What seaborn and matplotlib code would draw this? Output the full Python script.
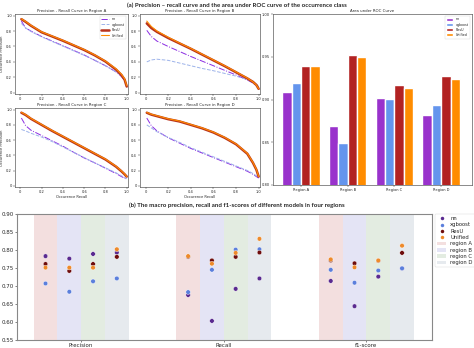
import numpy as np
import pandas as pd
import matplotlib
matplotlib.use("Agg")
import matplotlib.pyplot as plt
from matplotlib.patches import Patch
from matplotlib.lines import Line2D
import seaborn as sns

sns.set_style("ticks")
plt.rcParams["font.family"] = ["DejaVu Sans"]

# ---------------- data ----------------
models = ["nn", "xgboost", "ResU", "Unified"]
regions = ["Region A", "Region B", "Region C", "Region D"]
region_names = ["region A", "region B", "region C", "region D"]
metrics = ["Precision", "Recall", "f1-score"]

# precision-recall curves (recall grid shared by all curves)
recall = [0.01, 0.05, 0.1, 0.2, 0.3, 0.4, 0.5, 0.6, 0.7, 0.8, 0.9, 0.95, 0.98, 1.0]

pr_a_nn      = [0.93, 0.84, 0.80, 0.73, 0.67, 0.61, 0.55, 0.49, 0.42, 0.35, 0.27, 0.21, 0.16, 0.10]
pr_a_xgboost = [0.90, 0.84, 0.795, 0.725, 0.665, 0.605, 0.545, 0.485, 0.42, 0.35, 0.27, 0.22, 0.17, 0.11]
pr_a_resu    = [0.955, 0.92, 0.87, 0.785, 0.73, 0.675, 0.615, 0.555, 0.485, 0.405, 0.30, 0.23, 0.17, 0.08]
pr_a_unified = [0.96, 0.925, 0.875, 0.79, 0.735, 0.68, 0.62, 0.56, 0.49, 0.41, 0.31, 0.24, 0.18, 0.09]

pr_b_nn      = [0.81, 0.73, 0.67, 0.60, 0.535, 0.47, 0.41, 0.35, 0.29, 0.23, 0.165, 0.125, 0.09, 0.06]
pr_b_xgboost = [0.40, 0.425, 0.435, 0.42, 0.385, 0.35, 0.315, 0.285, 0.25, 0.215, 0.17, 0.135, 0.11, 0.08]
pr_b_resu    = [0.90, 0.84, 0.79, 0.71, 0.64, 0.57, 0.495, 0.42, 0.345, 0.265, 0.185, 0.14, 0.10, 0.05]
pr_b_unified = [0.93, 0.86, 0.80, 0.72, 0.645, 0.575, 0.50, 0.425, 0.35, 0.27, 0.19, 0.14, 0.10, 0.05]

pr_c_nn      = [0.89, 0.79, 0.73, 0.66, 0.59, 0.52, 0.44, 0.365, 0.30, 0.23, 0.16, 0.12, 0.10, 0.08]
pr_c_xgboost = [0.74, 0.72, 0.69, 0.64, 0.58, 0.51, 0.44, 0.37, 0.30, 0.235, 0.17, 0.13, 0.11, 0.09]
pr_c_resu    = [0.96, 0.93, 0.88, 0.80, 0.72, 0.645, 0.57, 0.495, 0.42, 0.345, 0.25, 0.19, 0.15, 0.12]
pr_c_unified = [0.965, 0.935, 0.885, 0.805, 0.725, 0.65, 0.575, 0.50, 0.425, 0.35, 0.255, 0.195, 0.155, 0.12]

pr_d_nn      = [0.89, 0.79, 0.72, 0.63, 0.56, 0.49, 0.43, 0.37, 0.31, 0.25, 0.19, 0.15, 0.12, 0.10]
pr_d_xgboost = [0.80, 0.76, 0.71, 0.635, 0.57, 0.50, 0.44, 0.38, 0.32, 0.26, 0.20, 0.16, 0.13, 0.11]
pr_d_resu    = [0.96, 0.935, 0.915, 0.875, 0.845, 0.80, 0.755, 0.70, 0.63, 0.545, 0.42, 0.30, 0.21, 0.12]
pr_d_unified = [0.965, 0.94, 0.92, 0.88, 0.85, 0.805, 0.76, 0.705, 0.635, 0.55, 0.425, 0.305, 0.215, 0.12]

# area under ROC curve per region
auc_nn      = [0.909, 0.869, 0.902, 0.882]
auc_xgboost = [0.919, 0.849, 0.901, 0.894]
auc_resu    = [0.939, 0.952, 0.917, 0.927]
auc_unified = [0.939, 0.950, 0.914, 0.924]

# macro scores: precision A-D, recall A-D, f1 A-D
scores_nn      = [0.783, 0.776, 0.789, 0.793, 0.675, 0.603, 0.692, 0.721, 0.714, 0.644, 0.726, 0.749]
scores_xgboost = [0.707, 0.684, 0.713, 0.721, 0.683, 0.745, 0.801, 0.802, 0.745, 0.709, 0.743, 0.749]
scores_resu    = [0.761, 0.742, 0.761, 0.781, 0.781, 0.771, 0.781, 0.793, 0.771, 0.763, 0.770, 0.792]
scores_unified = [0.751, 0.751, 0.751, 0.802, 0.783, 0.762, 0.792, 0.831, 0.774, 0.752, 0.771, 0.812]

# ---------------- styles ----------------
curve_styles = {
    "nn": dict(color="#8a2be2", ls="-.", lw=0.7),
    "xgboost": dict(color="#9db3ea", ls="--", lw=0.7),
    "ResU": dict(color="#b8321c", ls="-", lw=1.8),
    "Unified": dict(color="#ff8c00", ls="-", lw=0.8),
}
bar_colors = ["#9932cc", "#6495ed", "#b22222", "#ff8c00"]
dot_colors = ["#5a2a90", "#5b7fdc", "#6e0c0c", "#ee8a2a"]
span_colors = ["#f3dfdf", "#e4e4f5", "#e3ece1", "#e6eaee"]

W, H = 474, 348
fig = plt.figure(figsize=(W / 100, H / 100), dpi=100)
fig.patch.set_facecolor("white")


def px_axes(left, top, right, bottom):
    return fig.add_axes([left / W, 1 - bottom / H, (right - left) / W, (bottom - top) / H])


def style_small(ax, fs=2.6):
    ax.tick_params(labelsize=fs, length=1.2, width=0.3, pad=1)
    for s in ax.spines.values():
        s.set_linewidth(0.4)
        s.set_color("#333333")


# ---------------- precision-recall panels ----------------
pr_curves = [
    (pr_a_nn, pr_a_xgboost, pr_a_resu, pr_a_unified),
    (pr_b_nn, pr_b_xgboost, pr_b_resu, pr_b_unified),
    (pr_c_nn, pr_c_xgboost, pr_c_resu, pr_c_unified),
    (pr_d_nn, pr_d_xgboost, pr_d_resu, pr_d_unified),
]
boxes = [(15, 14, 128, 94), (140, 14, 260, 94), (15, 108, 128, 187), (140, 108, 260, 187)]
letters = ["A", "B", "C", "D"]
ticks = [0, 0.2, 0.4, 0.6, 0.8, 1.0]
tick_labels = ["0", "0.2", "0.4", "0.6", "0.8", "1.0"]

for i, (box, curves) in enumerate(zip(boxes, pr_curves)):
    ax = px_axes(*box)
    for m, prec in zip(models, curves):
        st = curve_styles[m]
        sns.lineplot(x=recall, y=prec, ax=ax, sort=False, estimator=None,
                     color=st["color"], linestyle=st["ls"], linewidth=st["lw"], label=m)
    ax.set_xlim(-0.05, 1.012)
    ax.set_ylim(-0.017, 1.022)
    ax.set_xticks(ticks)
    ax.set_xticklabels(tick_labels)
    ax.set_yticks(ticks)
    ax.set_yticklabels(tick_labels)
    style_small(ax)
    ax.set_title(f"Precision - Recall Curve in Region {letters[i]}", fontsize=2.8, pad=1.2)
    if i % 2 == 0:
        ax.set_ylabel("Occurence Precision", fontsize=2.6, labelpad=1.5)
    if i >= 2:
        ax.set_xlabel("Occurence Recall", fontsize=2.6, labelpad=1)
    if i == 0:
        ax.legend(loc="upper right", fontsize=2.4, frameon=True, handlelength=2.5,
                  borderpad=0.4, labelspacing=0.45).get_frame().set_linewidth(0.3)
    else:
        ax.get_legend().remove()

# ---------------- AUC bar chart ----------------
auc_df = pd.DataFrame({
    "region": regions * 4,
    "model": np.repeat(models, 4),
    "auc": auc_nn + auc_xgboost + auc_resu + auc_unified,
})
ax_auc = px_axes(273, 14, 472, 185)
sns.barplot(data=auc_df, x="region", y="auc", hue="model", palette=bar_colors,
            ax=ax_auc, width=0.8, saturation=1)
ax_auc.set_ylim(0.80, 1.00)
ax_auc.set_xlim(-0.6, 3.66)
ax_auc.set_yticks([0.80, 0.85, 0.90, 0.95, 1.00])
ax_auc.set_yticklabels(["0.80", "0.85", "0.90", "0.95", "1.00"])
ax_auc.set_xlabel("")
ax_auc.set_ylabel("")
style_small(ax_auc)
ax_auc.set_title("Area under ROC Curve", fontsize=2.8, pad=1.2)
leg = ax_auc.legend(loc="upper right", fontsize=2.4, frameon=True, handlelength=2.0,
                    handleheight=0.9, borderpad=0.5, labelspacing=0.35)
leg.get_frame().set_linewidth(0.3)

# ---------------- macro scores scatter ----------------
offsets = [-0.25, -0.0833, 0.0833, 0.25]
rows = []
for m, sc in zip(models, [scores_nn, scores_xgboost, scores_resu, scores_unified]):
    for k, metric in enumerate(metrics):
        for j in range(4):
            rows.append({"model": m, "metric": metric, "region": region_names[j],
                         "x": k + offsets[j], "score": sc[4 * k + j]})
score_df = pd.DataFrame(rows)

ax_b = px_axes(17, 214, 432, 340)
for k in range(3):
    for j in range(4):
        ax_b.axvspan(k - 1 / 3 + j / 6, k - 1 / 3 + (j + 1) / 6, color=span_colors[j],
                     lw=0, zorder=0)
sns.scatterplot(data=score_df, x="x", y="score", hue="model", palette=dot_colors,
                s=11, edgecolor="white", linewidth=0.3, ax=ax_b, zorder=3, legend=False)
ax_b.set_xlim(-0.45, 2.46)
ax_b.set_ylim(0.55, 0.90)
ax_b.set_xticks([0, 1, 2])
ax_b.set_xticklabels(metrics)
ax_b.set_yticks([0.55, 0.60, 0.65, 0.70, 0.75, 0.80, 0.85, 0.90])
ax_b.set_yticklabels(["0.55", "0.60", "0.65", "0.70", "0.75", "0.80", "0.85", "0.90"])
ax_b.set_xlabel("")
ax_b.set_ylabel("")
ax_b.tick_params(labelsize=4, length=1.5, width=0.4, pad=1)
for s in ax_b.spines.values():
    s.set_linewidth(0.8)
    s.set_color("#888888")

handles = [Line2D([], [], marker="o", ls="", color=c, markersize=2.5, markeredgewidth=0)
           for c in dot_colors]
handles += [Patch(facecolor=c, edgecolor="none") for c in span_colors]
leg_b = ax_b.legend(handles, models + region_names, loc="upper left",
                    bbox_to_anchor=(1.008, 1.0), fontsize=3.8, frameon=True,
                    handlelength=1.6, handleheight=0.7, borderpad=0.4, labelspacing=0.25,
                    borderaxespad=0)
leg_b.get_frame().set_linewidth(0.3)

# ---------------- section titles ----------------
fig.text(0.5, 1 - 5 / H, "(a) Precision \u2013 recall curve and the area under ROC curve of the occurrence class",
         ha="center", va="center", fontsize=4.45, fontweight="bold", family=["Lato", "DejaVu Sans"])
fig.text(0.5, 1 - 205 / H, "(b) The macro precision, recall and f1-scores of different models in four regions",
         ha="center", va="center", fontsize=4.45, fontweight="bold", family=["Lato", "DejaVu Sans"])

fig.savefig("out.png", dpi=100, facecolor="white")
